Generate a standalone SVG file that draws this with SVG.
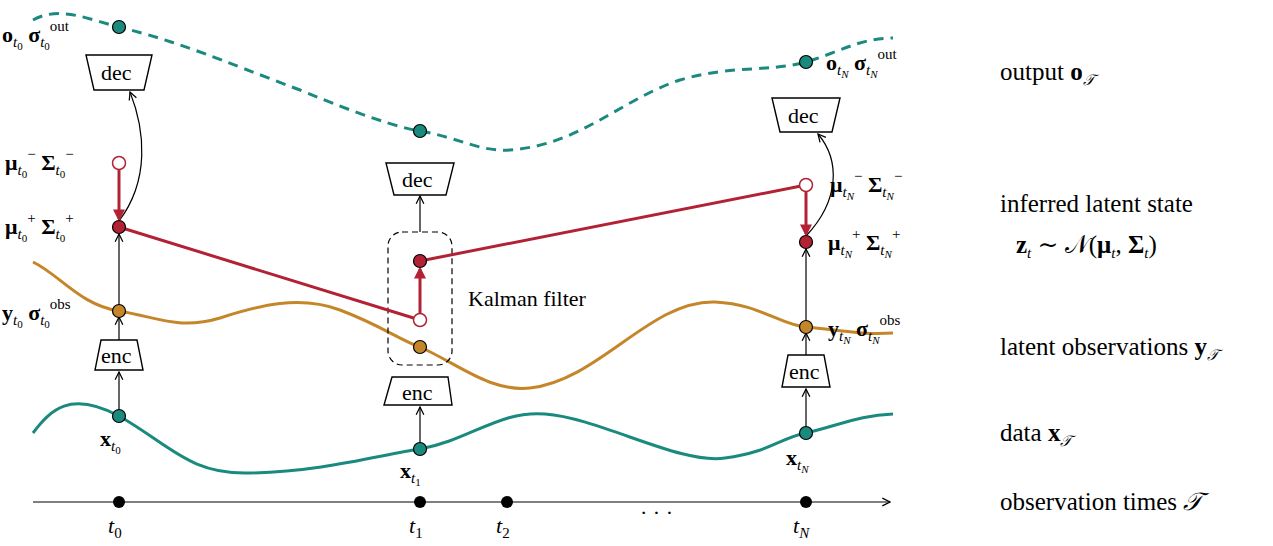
<svg xmlns="http://www.w3.org/2000/svg" width="1273" height="546" viewBox="0 0 1273 546">
<style>
text{font-family:"Liberation Serif","DejaVu Serif",serif;font-size:22px;fill:#000}
.b{font-weight:bold}
.s{font-size:15px;font-weight:normal}
.i{font-style:italic}
.ss{font-size:11px;font-weight:normal}
.lab{font-size:25px}
.box{fill:#fff;stroke:#000;stroke-width:1.4}
.ar{stroke:#000;stroke-width:1.2;fill:none;marker-end:url(#ah)}
.red{stroke:#b22234;stroke-width:3;fill:none}
.teal{fill:#1b8a7e;stroke:#000;stroke-width:1.2}
.or{fill:#c5862a;stroke:#000;stroke-width:1.2}
.rf{fill:#b22234;stroke:#000;stroke-width:1.2}
.rh{fill:#fff;stroke:#b22234;stroke-width:1.5}
</style>
<defs>
<marker id="ah" viewBox="0 0 10 10" refX="9" refY="5" markerWidth="8" markerHeight="8" orient="auto"><path d="M1,1 L9,5 L1,9" fill="none" stroke="#000" stroke-width="1.3"/></marker>
<marker id="rah" viewBox="0 0 10 10" refX="8" refY="5" markerWidth="4" markerHeight="4" orient="auto"><path d="M0,0 L10,5 L0,10 z" fill="#b22234"/></marker>
</defs>
<g id="curves" fill="none">
<path d="M33,433 C50,410 70,390 119,416 C170,445 190,475 250,473 C320,472 380,455 420,449 C470,440 500,410 545,414 C600,418 680,465 725,458 C770,452 780,438 806,433 C840,425 860,415 893,414" stroke="#1b8a7e" stroke-width="3"/>
<path d="M33,262 C60,275 80,305 119,311 C160,318 180,330 220,318 C260,305 300,295 340,310 C380,325 400,340 420,347 C460,365 490,392 530,388 C600,380 650,300 715,302 C760,304 780,325 806,327 C840,330 860,335 893,333" stroke="#c5862a" stroke-width="3"/>
<path d="M33,20 C60,5 90,20 119,27 C180,42 220,60 300,90 C360,115 400,128 420,131 C460,138 480,152 510,150 C580,145 620,100 680,80 C730,65 770,72 806,62 C840,52 860,38 893,38" stroke="#1b8a7e" stroke-width="3" stroke-dasharray="10,7"/>
</g>
<g id="timeline">
<line x1="33" y1="502" x2="890" y2="502" class="ar"/>
<circle cx="119" cy="502" r="6"/><circle cx="420" cy="502" r="6"/><circle cx="507" cy="502" r="6"/><circle cx="806" cy="502" r="6"/>
<text x="108" y="533" class="i">t<tspan class="s" y="538" font-style="normal">0</tspan></text>
<text x="409" y="533" class="i">t<tspan class="s" y="538" font-style="normal">1</tspan></text>
<text x="496" y="533" class="i">t<tspan class="s" y="538" font-style="normal">2</tspan></text>
<text x="640" y="520">· · ·</text>
<text x="793" y="533" class="i">t<tspan class="s" y="538">N</tspan></text>
</g>
<g id="dashedbox"><rect x="388" y="232" width="64" height="133" rx="14" fill="none" stroke="#000" stroke-dasharray="6,4" stroke-width="1.2"/>
<text x="468" y="306">Kalman filter</text></g>
<g id="connectors">
<line x1="119" y1="410" x2="119" y2="372" class="ar"/><line x1="119" y1="340" x2="119" y2="317" class="ar"/><line x1="119" y1="305" x2="119" y2="234" class="ar"/>
<path d="M119,221 C150,180 145,130 130,92" class="ar"/>
<line x1="420" y1="443" x2="420" y2="407" class="ar"/><line x1="420" y1="232" x2="420" y2="196" class="ar"/>
<line x1="806" y1="427" x2="806" y2="389" class="ar"/><line x1="806" y1="355" x2="806" y2="333" class="ar"/><line x1="806" y1="321" x2="806" y2="249" class="ar"/>
<path d="M806,236 C840,200 840,160 818,134" class="ar"/>
<line x1="119" y1="227" x2="420" y2="320" class="red"/><line x1="420" y1="261" x2="806" y2="185" class="red"/>
<line x1="119" y1="170" x2="119" y2="219" class="red" marker-end="url(#rah)"/>
<line x1="420" y1="313" x2="420" y2="269" class="red" marker-end="url(#rah)"/>
<line x1="806" y1="192" x2="806" y2="234" class="red" marker-end="url(#rah)"/>
</g>
<g id="col0">
<path d="M101,340 L137,340 L143,370 L95,370 Z" class="box"/><text x="101" y="363">enc</text>
<path d="M86,55 L152,55 L144,90 L94,90 Z" class="box"/><text x="101" y="80">dec</text>
<circle cx="119" cy="416" r="6.5" class="teal"/><circle cx="119" cy="311" r="6.5" class="or"/><circle cx="119" cy="227" r="6.5" class="rf"/><circle cx="119" cy="163" r="6.5" class="rh"/><circle cx="119" cy="27" r="6.5" class="teal"/>
<text x="100" y="446"><tspan class="b">x</tspan><tspan class="s i" y="451">t</tspan><tspan class="ss" y="454">0</tspan></text>
<text x="2" y="320"><tspan class="b">y</tspan><tspan class="s i" y="325">t</tspan><tspan class="ss" y="328">0</tspan><tspan y="320"> </tspan><tspan class="b" y="320">σ</tspan><tspan class="s i" y="325">t</tspan><tspan class="ss" y="328">0</tspan><tspan class="s" y="309">obs</tspan></text>
<text x="5" y="234"><tspan class="b">μ</tspan><tspan class="s i" y="239">t</tspan><tspan class="ss" y="242">0</tspan><tspan class="s" y="223">+</tspan><tspan y="234"> </tspan><tspan class="b" y="234">Σ</tspan><tspan class="s i" y="239">t</tspan><tspan class="ss" y="242">0</tspan><tspan class="s" y="223">+</tspan></text>
<text x="5" y="170"><tspan class="b">μ</tspan><tspan class="s i" y="175">t</tspan><tspan class="ss" y="178">0</tspan><tspan class="s" y="159">−</tspan><tspan y="170"> </tspan><tspan class="b" y="170">Σ</tspan><tspan class="s i" y="175">t</tspan><tspan class="ss" y="178">0</tspan><tspan class="s" y="159">−</tspan></text>
<text x="2" y="42"><tspan class="b">o</tspan><tspan class="s i" y="47">t</tspan><tspan class="ss" y="50">0</tspan><tspan y="42"> </tspan><tspan class="b" y="42">σ</tspan><tspan class="s i" y="47">t</tspan><tspan class="ss" y="50">0</tspan><tspan class="s" y="31">out</tspan></text>
</g>
<g id="col1">
<path d="M392,377 L448,377 L452,405 L384,405 Z" class="box"/><text x="402" y="400">enc</text>
<path d="M386,163 L454,163 L446,195 L394,195 Z" class="box"/><text x="402" y="187">dec</text>
<circle cx="420" cy="449" r="6.5" class="teal"/><circle cx="420" cy="347" r="6.5" class="or"/><circle cx="420" cy="320" r="6.5" class="rh"/><circle cx="420" cy="261" r="6.5" class="rf"/><circle cx="420" cy="131" r="6.5" class="teal"/>
<text x="400" y="478"><tspan class="b">x</tspan><tspan class="s i" y="483">t</tspan><tspan class="ss" y="486">1</tspan></text>
</g>
<g id="colN">
<path d="M788,355 L824,355 L830,387 L782,387 Z" class="box"/><text x="789" y="379">enc</text>
<path d="M772,98 L840,98 L832,132 L780,132 Z" class="box"/><text x="788" y="123">dec</text>
<circle cx="806" cy="433" r="6.5" class="teal"/><circle cx="806" cy="327" r="6.5" class="or"/><circle cx="806" cy="242" r="6.5" class="rf"/><circle cx="806" cy="185" r="6.5" class="rh"/><circle cx="806" cy="62" r="6.5" class="teal"/>
<text x="786" y="465"><tspan class="b">x</tspan><tspan class="s i" y="470">t</tspan><tspan class="ss i" y="473">N</tspan></text>
<text x="828" y="336"><tspan class="b">y</tspan><tspan class="s i" y="341">t</tspan><tspan class="ss i" y="344">N</tspan><tspan y="336"> </tspan><tspan class="b" y="336">σ</tspan><tspan class="s i" y="341">t</tspan><tspan class="ss i" y="344">N</tspan><tspan class="s" y="325">obs</tspan></text>
<text x="828" y="250"><tspan class="b">μ</tspan><tspan class="s i" y="255">t</tspan><tspan class="ss i" y="258">N</tspan><tspan class="s" y="239">+</tspan><tspan y="250"> </tspan><tspan class="b" y="250">Σ</tspan><tspan class="s i" y="255">t</tspan><tspan class="ss i" y="258">N</tspan><tspan class="s" y="239">+</tspan></text>
<text x="830" y="192"><tspan class="b">μ</tspan><tspan class="s i" y="197">t</tspan><tspan class="ss i" y="200">N</tspan><tspan class="s" y="181">−</tspan><tspan y="192"> </tspan><tspan class="b" y="192">Σ</tspan><tspan class="s i" y="197">t</tspan><tspan class="ss i" y="200">N</tspan><tspan class="s" y="181">−</tspan></text>
<text x="826" y="70"><tspan class="b">o</tspan><tspan class="s i" y="75">t</tspan><tspan class="ss i" y="78">N</tspan><tspan y="70"> </tspan><tspan class="b" y="70">σ</tspan><tspan class="s i" y="75">t</tspan><tspan class="ss i" y="78">N</tspan><tspan class="s" y="59">out</tspan></text>
</g>
<g id="legend">
<text x="1000" y="80" class="lab">output <tspan class="b">o</tspan><tspan class="s i" y="85">𝒯</tspan></text>
<text x="1000" y="212" class="lab">inferred latent state</text>
<text x="1016" y="253" class="lab"><tspan class="b">z</tspan><tspan class="s i" y="258">t</tspan><tspan y="253"> ∼ 𝒩(</tspan><tspan class="b" y="253">μ</tspan><tspan class="s i" y="258">t</tspan><tspan y="253">, </tspan><tspan class="b" y="253">Σ</tspan><tspan class="s i" y="258">t</tspan><tspan y="253">)</tspan></text>
<text x="1000" y="355" class="lab">latent observations <tspan class="b">y</tspan><tspan class="s i" y="360">𝒯</tspan></text>
<text x="1000" y="441" class="lab">data <tspan class="b">x</tspan><tspan class="s i" y="446">𝒯</tspan></text>
<text x="1000" y="510" class="lab">observation times <tspan class="i">𝒯</tspan></text>
</g>
</svg>
